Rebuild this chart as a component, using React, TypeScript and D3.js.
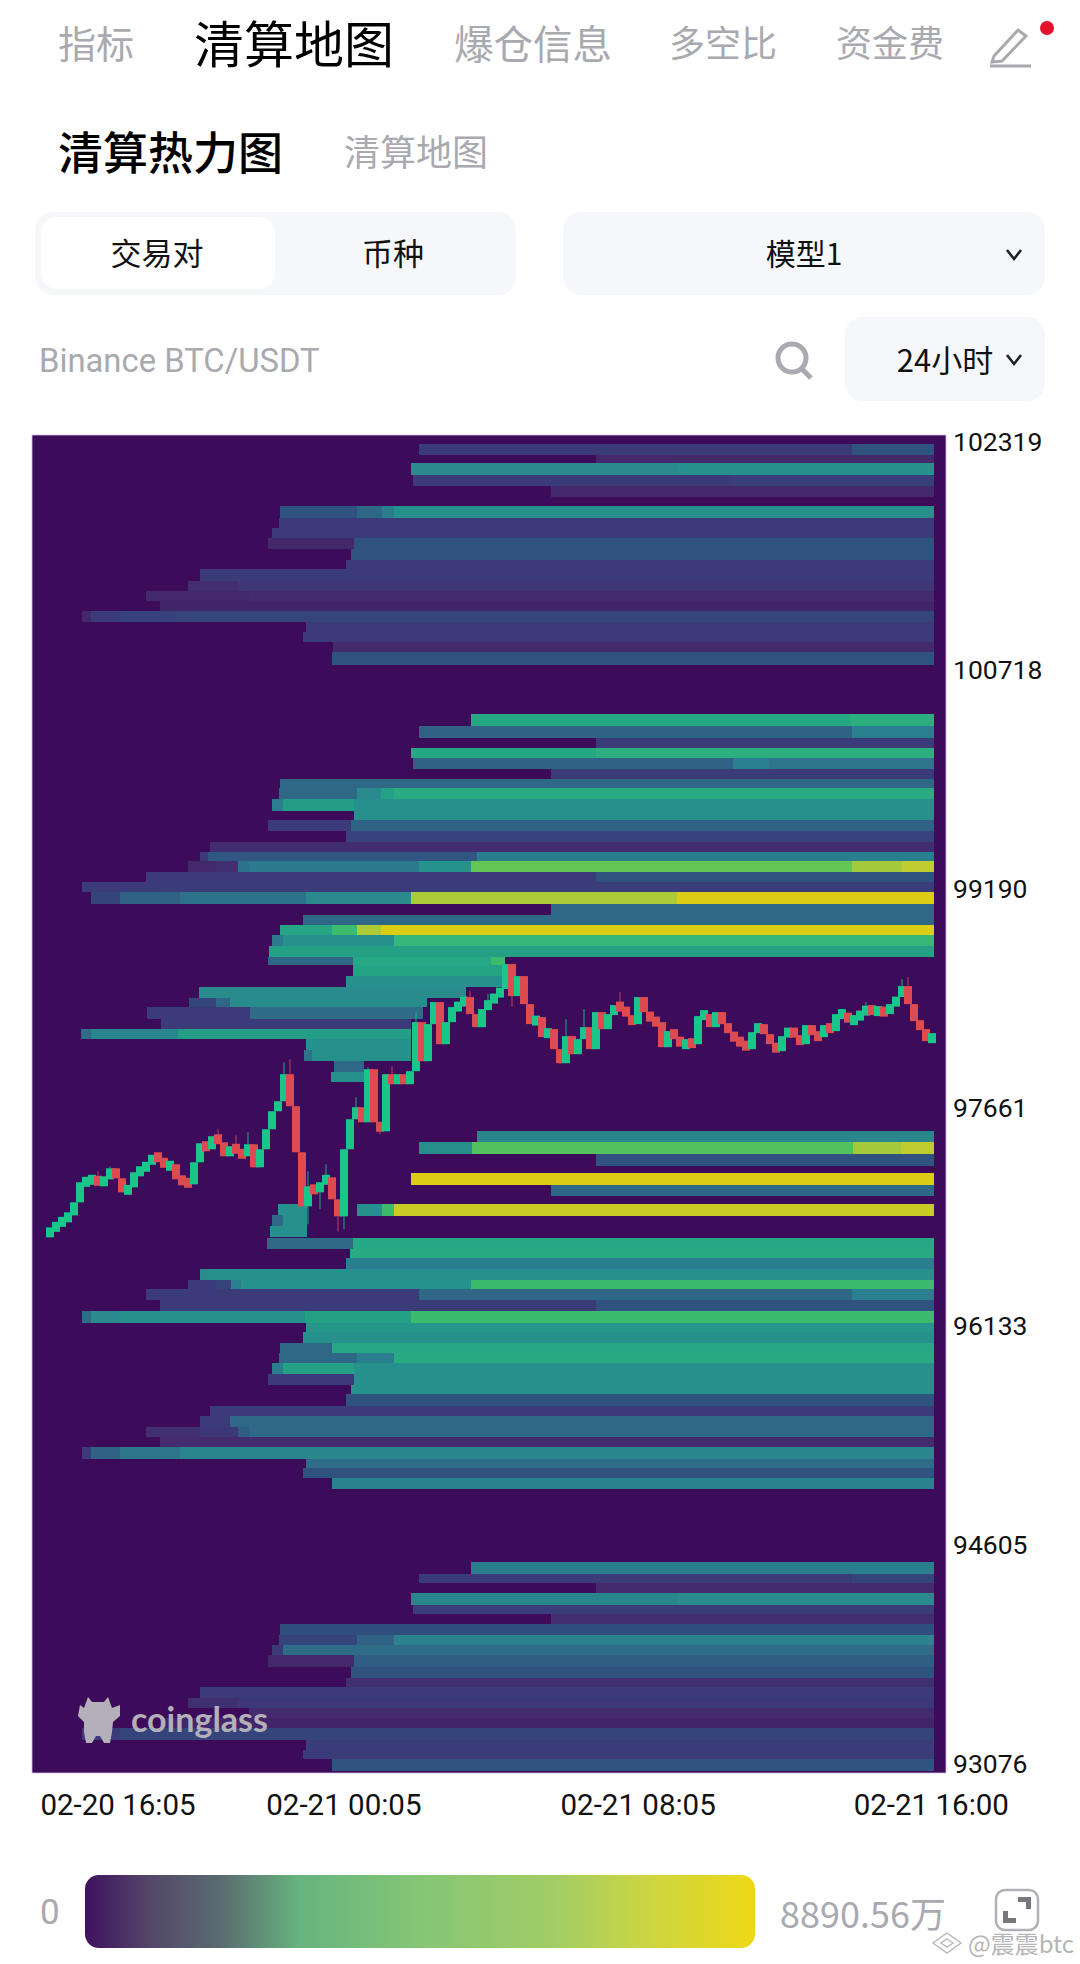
import React from 'react';
import * as d3 from 'd3';

const W = 1080;
const H = 1964;
const CJK = '"Noto Sans CJK SC", "Noto Sans", sans-serif';
const LATIN = 'Roboto, "Noto Sans", sans-serif';

const yTicks = [102319, 100718, 99190, 97661, 96133, 94605, 93076];
const xTicks = [
  { hour: 0, label: '02-20 16:05' },
  { hour: 7.97, label: '02-21 00:05' },
  { hour: 15.95, label: '02-21 08:05' },
  { hour: 23.9, label: '02-21 16:00' },
];

const tabs = [
  { label: '指标', x: 96, size: 38, on: false },
  { label: '清算地图', x: 294, size: 50, on: true },
  { label: '爆仓信息', x: 533, size: 39.5, on: false },
  { label: '多空比', x: 723, size: 36, on: false },
  { label: '资金费', x: 890, size: 36, on: false },
];

const maxValue = 8890.56;
// value (万) -> colour
const colorValues = [0, 800, 1500, 2000, 2400, 2800, 3300, 3600, 3900, 4400, 4700, 5200, 5500, 6000, 7000, 7600, maxValue];
const colorRange = ['#3c0c5a', '#44286c', '#3b3b7a', '#35457c', '#30527f', '#2f6787', '#2a7f8e', '#2a8a8d', '#25908c', '#24a085', '#26a884', '#35b779', '#3dbb6d', '#62c554', '#a4c93a', '#c0cc30', '#dccc14'];
const legendStops = [
  ['0%', '#3f1260'], ['10%', '#544868'], ['20%', '#5a6a70'], ['32%', '#66b47e'],
  ['50%', '#85c676'], ['70%', '#a2cd66'], ['85%', '#cfd640'], ['100%', '#eed816'],
];

// liquidation rows: edges are prices, each row lists [start hour, value] runs
// a run with value 0 means the level was wiped out from that hour on
const upperEdges = [102295, 102218, 102162, 102078, 102001, 101924, 101868, 101784, 101714, 101644, 101567, 101490, 101427, 101343, 101273, 101203, 101133, 101056, 100986, 100916, 100846, 100755];
const upperRows: number[][][] = [
  [[10.0, 1500], [21.75, 2400]],
  [[14.8, 800]],
  [[9.78, 3600], [17.0, 3900]],
  [[9.84, 1500], [18.52, 1700]],
  [[13.59, 800]],
  [],
  [[6.25, 2400], [8.33, 2800], [9.0, 3300], [9.32, 3900]],
  [[6.2, 1500]],
  [[6.01, 1500]],
  [[5.9, 800], [8.25, 2400]],
  [[8.17, 2400]],
  [[8.03, 1500]],
  [[4.06, 1500]],
  [[3.74, 1000], [5.11, 1300]],
  [[2.61, 800], [5.41, 900]],
  [[2.99, 700]],
  [[0.86, 800], [1.1, 1500], [1.91, 1800], [3.52, 2000]],
  [[6.95, 1500]],
  [[6.87, 1500]],
  [[7.68, 900]],
  [[7.65, 2400]],
];

const shortEdges = [100412, 100328, 100244, 100174, 100104, 100027, 99957, 99894, 99817, 99733, 99670, 99593, 99516, 99446, 99383, 99306, 99236, 99166, 99082, 99005, 98935, 98865, 98788, 98711, 98655, 98578, 98501, 98424, 98361, 98277, 98207, 98137, 98060, 97983, 97906, 97836];
const shortRows: number[][][] = [
  [[11.43, 4700], [21.73, 4900]],
  [[10.0, 2700], [21.75, 3300]],
  [[14.8, 1500]],
  [[9.78, 4700], [14.8, 4900]],
  [[9.84, 2700], [18.52, 3300], [19.51, 3100]],
  [[13.59, 1500]],
  [[6.25, 2800]],
  [[6.2, 2800], [8.33, 3600], [8.97, 4400], [9.32, 4800]],
  [[6.01, 3300], [6.31, 4300], [8.25, 3900]],
  [[8.25, 3900]],
  [[5.9, 1500], [8.17, 2700]],
  [[8.03, 1900]],
  [[4.34, 1000]],
  [[4.06, 1500], [4.28, 2500], [11.59, 3300]],
  [[3.74, 800], [4.5, 1100], [5.11, 3000], [5.41, 3200], [10.0, 4000], [11.43, 6000], [21.75, 7000], [23.11, 7600]],
  [[2.61, 1500], [14.8, 2400]],
  [[0.86, 1500], [2.99, 1600]],
  [[1.1, 2000], [1.91, 2700], [3.52, 3000], [6.95, 3600], [9.78, 7200], [17.0, 8890]],
  [[13.59, 2800]],
  [[6.87, 2800]],
  [[6.25, 4600], [7.65, 5500], [8.33, 7200], [8.97, 8890]],
  [[6.01, 3200], [6.33, 3900], [9.32, 5200]],
  [[5.93, 4400]],
  [[5.9, 2800], [8.22, 4700], [11.96, 5500], [12.34, 0]],
  [[8.22, 4500], [12.28, 0]],
  [[8.03, 3900], [12.28, 0]],
  [[4.04, 3600], [4.28, 3700], [11.28, 0]],
  [[3.77, 2000], [4.5, 2800], [4.88, 3700], [10.22, 0]],
  [[2.63, 1500], [5.42, 2900], [10.12, 0]],
  [[3.01, 1500], [9.79, 0]],
  [[0.84, 2900], [1.11, 3500], [3.47, 4300], [9.79, 0]],
  [[6.94, 3900], [9.79, 0]],
  [[6.89, 3000], [7.11, 3900], [9.79, 0]],
  [[7.7, 2800], [8.52, 0]],
  [[7.62, 3900], [8.52, 0]],
];

const dipEdges = [96982, 96905, 96828, 96751];
const dipRows: number[][][] = [
  [[6.18, 3900], [6.97, 0]],
  [[6.02, 2800], [6.32, 3900], [6.97, 0]],
  [[5.97, 3900], [6.97, 0]],
];

const longEdges = [97493, 97416, 97332, 97248, 97199, 97115, 97038, 96982, 96898, 96744, 96667, 96604, 96527, 96450, 96387, 96310, 96233, 96149, 96086, 96016, 95946, 95876, 95799, 95722, 95659, 95575, 95505, 95428, 95358, 95288, 95204, 95141, 95071, 94994];
const longRows: number[][][] = [
  [[11.58, 3500]],
  [[10.01, 3800], [11.44, 5800], [21.78, 7000], [23.07, 7600]],
  [[14.81, 2400]],
  [],
  [[9.79, 8890]],
  [[13.59, 2800]],
  [],
  [[8.33, 3900], [9.0, 5500], [9.33, 8000]],
  [],
  [[5.88, 2800], [8.22, 4700]],
  [[8.14, 4800]],
  [[8.03, 3300]],
  [[4.06, 3600], [4.26, 3900]],
  [[3.74, 1500], [4.5, 2000], [4.91, 3300], [5.17, 4000], [11.43, 5500]],
  [[2.61, 1500], [10.0, 2800], [21.75, 3300]],
  [[2.99, 1500], [14.8, 2400]],
  [[0.86, 2900], [1.1, 3600], [1.91, 3900], [6.92, 4400], [9.78, 5500]],
  [[6.95, 4100]],
  [[6.87, 3900]],
  [[6.25, 2800], [7.65, 4700]],
  [[6.2, 2800], [8.33, 3300], [9.32, 4800]],
  [[6.01, 3300], [6.33, 4400], [8.25, 3900]],
  [[5.9, 1500], [8.25, 3900]],
  [[8.17, 3900]],
  [[8.03, 2400]],
  [[4.34, 1500]],
  [[4.06, 1500], [4.88, 2800]],
  [[2.61, 1100], [4.06, 1400], [5.11, 2600], [5.41, 2800]],
  [[2.99, 900]],
  [[0.86, 1500], [1.1, 2700], [1.91, 3100], [3.52, 3500]],
  [[6.95, 2900]],
  [[6.87, 2400]],
  [[7.65, 3400]],
];

const lowerEdges = [94483, 94399, 94336, 94266, 94182, 94119, 94049, 93972, 93902, 93832, 93748, 93671, 93608, 93531, 93461, 93391, 93321, 93237, 93167, 93104, 93020];
const lowerRows: number[][][] = [
  [[11.43, 3300]],
  [[10.0, 1500], [21.75, 2000]],
  [[14.8, 900]],
  [[9.78, 3500], [17.0, 3600]],
  [[9.84, 1600]],
  [[13.59, 1000]],
  [[6.25, 2300]],
  [[6.2, 2000], [8.33, 2700], [9.32, 3400]],
  [[6.01, 1500], [6.33, 2900]],
  [[5.9, 800], [8.25, 2600]],
  [[8.17, 2400]],
  [[8.03, 1100]],
  [[4.06, 1500]],
  [[3.74, 1100], [5.11, 1400]],
  [[5.41, 900]],
  [[2.99, 700]],
  [[0.86, 1500], [1.91, 2000]],
  [[6.95, 1600]],
  [[6.87, 1500]],
  [[7.65, 2400]],
];

// candles, one every ~10 minutes; open is the close before
const firstOpen = 96765;
const closes = [
  96807, 96842, 96877, 96905, 96996, 97136, 97143, 97164, 97129, 97157, 97234, 97164, 97066, 97101, 97206, 97220,
  97269, 97318, 97304, 97241, 97262, 97157, 97143, 97122, 97276, 97409, 97367, 97458, 97416, 97318, 97388, 97353,
  97318, 97402, 97241, 97367, 97507, 97633, 97703, 97892, 97668, 97346, 96968, 97108, 97066, 97136, 97171, 97017,
  96898, 97367, 97577, 97661, 97556, 97927, 97556, 97493, 97892, 97822, 97892, 97822, 97913, 98256, 97983, 98242,
  98396, 98102, 98256, 98361, 98368, 98431, 98312, 98221, 98347, 98403, 98438, 98487, 98662, 98438, 98578, 98382,
  98242, 98291, 98151, 98207, 98067, 97969, 98158, 98032, 98137, 98221, 98067, 98326, 98207, 98312, 98368, 98361,
  98298, 98242, 98431, 98326, 98263, 98256, 98081, 98193, 98151, 98088, 98116, 98102, 98298, 98312, 98221, 98326,
  98242, 98186, 98123, 98116, 98067, 98186, 98242, 98172, 98102, 98053, 98158, 98207, 98158, 98102, 98235, 98165,
  98151, 98235, 98193, 98312, 98312, 98263, 98277, 98326, 98347, 98333, 98333, 98326, 98368, 98431, 98508, 98382,
  98263, 98207, 98123, 98165,
];
const wickHighs: [number, number][] = [
  [8, 97213], [10, 97248], [28, 97507], [31, 97465], [33, 97486], [39, 97976], [40, 97997], [43, 97213], [46, 97262],
  [51, 97731], [53, 97941], [57, 97948], [61, 98326], [70, 98473], [73, 98452], [86, 98277], [89, 98347], [95, 98466],
  [136, 98396], [142, 98557], [143, 98571],
];
const wickLows: [number, number][] = [
  [43, 96842], [45, 96947], [48, 96793], [49, 96807], [55, 97472], [77, 98361], [85, 97962],
];
const candleStart = 0;
const candleStep = 6 / 36.875;

const x = d3.scaleLinear().domain([0, 24]).range([50, 935]);
const y = d3.scaleLinear().domain([93076, 102319]).range([1763, 441]);
const color = d3.scaleLinear<string>().domain(colorValues).range(colorRange).interpolate(d3.interpolateRgb);
const rowEnd = 23.97;

const makeCells = (edges: number[], rows: number[][][]) =>
  rows.flatMap((runs, i) =>
    runs
      .map((run, j) => ({
        start: run[0],
        end: j + 1 < runs.length ? runs[j + 1][0] : rowEnd,
        value: run[1],
        top: edges[i],
        bottom: edges[i + 1],
      }))
      .filter((c) => c.value > 0)
  );

const cells = [
  ...makeCells(upperEdges, upperRows),
  ...makeCells(shortEdges, shortRows),
  ...makeCells(longEdges, longRows),
  ...makeCells(dipEdges, dipRows),
  ...makeCells(lowerEdges, lowerRows),
];

const highAt = new Map(wickHighs);
const lowAt = new Map(wickLows);
const candles = closes.map((close, i) => {
  const open = i === 0 ? firstOpen : closes[i - 1];
  return {
    hour: candleStart + i * candleStep,
    open,
    close,
    high: highAt.get(i) ?? Math.max(open, close),
    low: lowAt.get(i) ?? Math.min(open, close),
  };
});

const Chevron = ({ cx, cy }: { cx: number; cy: number }) => (
  <path d={`M${cx - 7},${cy - 5} L${cx},${cy + 4} L${cx + 7},${cy - 5}`} fill="none" stroke="#222" strokeWidth={2.6} />
);

export default function App() {
  return (
    <svg width={W} height={H} viewBox={`0 0 ${W} ${H}`} style={{ position: 'absolute', left: 0, top: 0, background: '#fff' }}>
      {/* top tabs */}
      {tabs.map((t) => (
        <text key={t.label} x={t.x} y={41} textAnchor="middle" dominantBaseline="central" fontFamily={CJK} fontSize={t.size} fill={t.on ? '#000' : '#a9a9b0'}>
          {t.label}
        </text>
      ))}
      <path d="M994,56 L1018,30 L1026,36 L1002,61 L992,62 Z" fill="none" stroke="#a9a9b0" strokeWidth={3} />
      <line x1={990} x2={1031} y1={66} y2={66} stroke="#a9a9b0" strokeWidth={3} />
      <ellipse cx={1047} cy={28} rx={7} ry={7} fill="#e8112d" />

      <text x={58} y={150} dominantBaseline="central" fontFamily={CJK} fontSize={45} fontWeight={500} fill="#000">清算热力图</text>
      <text x={344} y={150} dominantBaseline="central" fontFamily={CJK} fontSize={36} fill="#a9a9b0">清算地图</text>

      {/* selectors */}
      <rect x={35} y={212} width={481} height={83} rx={18} fill="#f5f7fb" />
      <rect x={41} y={217} width={234} height={72} rx={16} fill="#fff" />
      <text x={157} y={251} textAnchor="middle" dominantBaseline="central" fontFamily={CJK} fontSize={31} fill="#111">交易对</text>
      <text x={393} y={251} textAnchor="middle" dominantBaseline="central" fontFamily={CJK} fontSize={31} fill="#111">币种</text>
      <rect x={563} y={212} width={482} height={83} rx={18} fill="#f5f7fb" />
      <text x={804} y={252} textAnchor="middle" dominantBaseline="central" fontFamily={CJK} fontSize={30} fill="#111">模型1</text>
      <Chevron cx={1014} cy={255} />

      <text x={39} y={361} dominantBaseline="central" fontFamily={LATIN} fontSize={32.8} fill="#a9a9b0">Binance BTC/USDT</text>
      <circle cx={792} cy={358} r={14} fill="none" stroke="#a9a9b0" strokeWidth={5} />
      <line x1={802} y1={369} x2={811} y2={378} stroke="#a9a9b0" strokeWidth={5} />
      <rect x={845} y={317} width={200} height={84} rx={18} fill="#f5f7fb" />
      <text x={945} y={358} textAnchor="middle" dominantBaseline="central" fontFamily={CJK} fontSize={31} fill="#111">24小时</text>
      <Chevron cx={1014} cy={360} />

      {/* heatmap */}
      <rect x={32} y={435} width={914} height={1338} fill={colorRange[0]} stroke="#cdbbe0" strokeWidth={0.8} />
      <g shapeRendering="crispEdges">
        {cells.map((c, i) => (
          <rect
            key={i}
            x={x(c.start)}
            y={y(c.top)}
            width={x(c.end) - x(c.start)}
            height={y(c.bottom) - y(c.top)}
            fill={color(c.value)}
          />
        ))}
      </g>

      {/* candles */}
      <g>
        {candles.map((c, i) => {
          const up = c.close >= c.open;
          const fill = up ? '#19c68a' : '#dd4a50';
          const yTop = y(Math.max(c.open, c.close));
          const yBot = y(Math.min(c.open, c.close));
          // very small bodies still read as a chunk in the picture
          const h = Math.max(yBot - yTop, 10);
          const top = (yTop + yBot) / 2 - h / 2;
          return (
            <g key={i}>
              <line x1={x(c.hour)} x2={x(c.hour)} y1={y(c.high)} y2={y(c.low)} stroke={fill} strokeOpacity={0.65} strokeWidth={1.3} />
              <rect x={x(c.hour) - 4} y={top} width={8} height={h} fill={fill} />
            </g>
          );
        })}
      </g>

      {/* coinglass mark */}
      <g fill="#b4b0ba">
        <path d="M80,1705 L84,1708 L88,1697 L92,1702 L104,1702 L108,1697 L112,1708 L120,1705 L120,1716 L113,1722 L112,1732 L110,1743 L104,1743 L100,1736 L96,1736 L92,1743 L86,1743 L84,1732 L84,1722 L78,1716 Z" />
        <text x={131} y={1718} dominantBaseline="central" fontFamily='Lato, sans-serif' fontWeight={700} fontSize={34}>coinglass</text>
      </g>

      {/* axes */}
      {yTicks.map((t) => (
        <text key={t} x={953} y={y(t)} dominantBaseline="central" fontFamily={LATIN} fontSize={26.5} fill="#111">
          {t}
        </text>
      ))}
      {xTicks.map((t) => (
        <text key={t.label} x={Math.max(x(t.hour), 118)} y={1805} textAnchor="middle" dominantBaseline="central" fontFamily={LATIN} fontSize={29.5} fill="#111">
          {t.label}
        </text>
      ))}

      {/* colour legend */}
      <defs>
        <linearGradient id="legend" x1="0" x2="1" y1="0" y2="0">
          {legendStops.map(([o, c]) => (
            <stop key={o} offset={o} stopColor={c} />
          ))}
        </linearGradient>
      </defs>
      <text x={40} y={1912} dominantBaseline="central" fontFamily={LATIN} fontSize={35} fill="#a9a9b0">0</text>
      <rect x={85} y={1875} width={670} height={73} rx={14} fill="url(#legend)" />
      <text x={780} y={1912} dominantBaseline="central" fontFamily={CJK} fontSize={36} fill="#a9a9b0">8890.56万</text>
      <rect x={996} y={1890} width={42} height={40} rx={9} fill="none" stroke="#b0b0b6" strokeWidth={2.5} />
      <path d="M1018,1897 H1031 V1909 H1026 V1902 H1018 Z M1003,1911 H1008 V1918 H1016 V1923 H1003 Z" fill="#77777d" />

      {/* repost watermark */}
      <path d="M947,1933 L961,1943 L947,1953 L933,1943 Z M947,1939 L953,1943 L947,1947 L941,1943 Z" fill="none" stroke="#bbb" strokeWidth={1.5} />
      <text x={968} y={1942} dominantBaseline="central" fontFamily={CJK} fontSize={24} fill="#b5b5b5">@震震btc</text>
    </svg>
  );
}
